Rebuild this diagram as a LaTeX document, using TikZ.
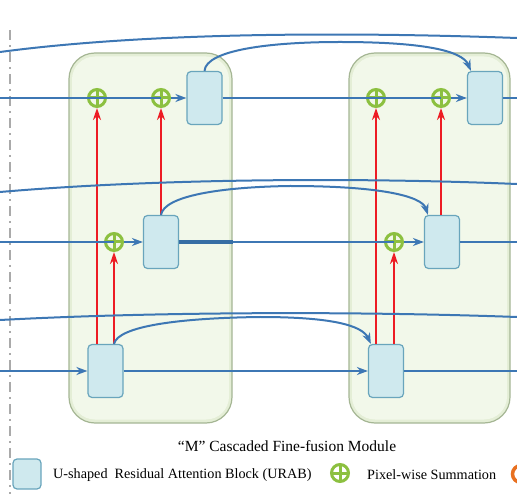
\documentclass[tikz,border=0pt]{standalone}
\usepackage{fontspec}
\setmainfont{Liberation Serif}
\usetikzlibrary{arrows.meta,calc}
\definecolor{lineblue}{RGB}{61,119,180}
\definecolor{darkblue}{RGB}{55,110,165}
\definecolor{arrred}{RGB}{237,28,36}
\definecolor{plusgreen}{RGB}{140,192,64}
\definecolor{modfill}{RGB}{242,248,234}
\definecolor{modmid}{RGB}{228,238,214}
\definecolor{modedge}{RGB}{165,182,148}
\definecolor{blockfill}{RGB}{207,233,238}
\definecolor{blockedge}{RGB}{105,165,188}
\definecolor{dashgray}{RGB}{170,170,170}
\definecolor{catorange}{RGB}{232,112,32}
\newcommand\mycapfont{\fontsize{15.5}{18}\selectfont}
\newcommand\mylegfont{\fontsize{14.2}{17}\selectfont}
\tikzset{
  module/.style={draw=modedge, line width=1.2pt, fill=modmid, rounded corners=26pt,
    minimum width=#1, minimum height=370pt, inner sep=0pt},
  modinner/.style={fill=modfill, rounded corners=23pt, minimum width=#1,
    minimum height=363pt, inner sep=0pt},
  urab/.style={draw=blockedge, line width=1.2pt, fill=blockfill, rounded corners=4pt,
    minimum width=35pt, minimum height=53pt, inner sep=0pt},
  sumnode/.style={circle, draw=plusgreen, line width=3pt, minimum size=17pt, inner sep=0pt,
    path picture={\draw[plusgreen, line width=3pt]
      (path picture bounding box.north) -- (path picture bounding box.south)
      (path picture bounding box.west) -- (path picture bounding box.east);}},
  flow/.style={draw=lineblue, line width=2pt},
  flowarrow/.style={flow, -{Stealth[length=11pt,width=8pt,inset=3.5pt]}},
  feed/.style={draw=arrred, line width=2.4pt, -{Stealth[length=12pt,width=8pt,inset=4pt]}},
  dashdot/.style={draw=dashgray, line width=2pt, dash pattern=on 10pt off 5pt on 2pt off 5pt},
}
\begin{document}
\begin{tikzpicture}[x=1pt,y=-1pt]
\useasboundingbox (0,0) rectangle (517,494);
\clip (0,0) rectangle (517,494);
% dash-dot separator
\coordinate (dd0) at (10,30);
\coordinate (dd1) at (10,494);
\draw[dashdot] (dd0) -- (dd1);
% modules
\node[module=163pt] (ML) at (150.5,238) {};
\node[modinner=157pt] (MLi) at (ML.center) {};
\node[module=161pt] (MR) at (429.5,238) {};
\node[modinner=155pt] (MRi) at (MR.center) {};
% blocks
\node[urab] (L1) at (204.5,98) {};
\node[urab] (L2) at (161,242) {};
\node[urab] (L3) at (105.5,371) {};
\node[urab] (R1) at (485,98) {};
\node[urab] (R2) at (442,242) {};
\node[urab] (R3) at (386,371) {};
% summations
\node[sumnode] (pL1a) at (97,98) {};
\node[sumnode] (pL1b) at (161,98) {};
\node[sumnode] (pL2) at (114,242) {};
\node[sumnode] (pR1a) at (376,98) {};
\node[sumnode] (pR1b) at (441,98) {};
\node[sumnode] (pR2) at (394,242) {};
% free ends
\coordinate (in1) at (0,98);   \coordinate (out1) at (517,98);
\coordinate (in2) at (0,242);  \coordinate (out2) at (517,242);
\coordinate (in3) at (0,371);  \coordinate (out3) at (517,371);
\coordinate (t0) at (0,52);    \coordinate (t1) at (517,38);
\coordinate (m0) at (0,192);   \coordinate (m1) at (517,184);
\coordinate (b0) at (0,320);   \coordinate (b1) at (517,317);
% red feeds
\draw[feed] (pL1a |- L3.north) -- (pL1a);
\draw[feed] (pL2 |- L3.north) -- (pL2);
\draw[feed] (L2.north) -- (pL1b);
\draw[feed] (pR1a |- R3.north) -- (pR1a);
\draw[feed] (pR2 |- R3.north) -- (pR2);
\draw[feed] (pR1b |- R2.north) -- (pR1b);
% row 1
\draw[flow] (in1) -- (pL1a.center) -- (pL1b.center);
\draw[flowarrow] (pL1b) -- (L1);
\draw[flow] (L1) -- (pR1a.center) -- (pR1b.center);
\draw[flowarrow] (pR1b) -- (R1);
\draw[flow] (R1) -- (out1);
% row 2
\draw[flow] (in2) -- (pL2.center);
\draw[flowarrow] (pL2) -- (L2);
\draw[draw=darkblue, line width=4pt] (L2) -- (ML.east |- L2);
\draw[flow] (ML.east |- L2) -- (pR2.center);
\draw[flowarrow] (pR2) -- (R2);
\draw[flow] (R2) -- (out2);
% row 3
\draw[flowarrow] (in3) -- (L3);
\draw[flowarrow] (L3) -- (R3);
\draw[flow] (R3) -- (out3);
% long skip curves
\draw[flow] (t0) .. controls (150,32) and (350,32) .. (t1);
\draw[flow] (m0) .. controls (150,179) and (350,177) .. (m1);
\draw[flow] (b0) .. controls (150,312) and (350,311) .. (b1);
% block-to-block curves
\draw[flowarrow] (L1.north) .. controls (206,50) and (270,42) .. (340,42)
  .. controls (420,42) and (462,50) .. ($(R1.north west)+(4,0)$);
\draw[flowarrow] (L2.north) .. controls (164,196) and (220,187) .. (290,186)
  .. controls (380,186) and (422,196) .. ($(R2.north west)+(4,0)$);
\draw[flowarrow] (pL2 |- L3.north) .. controls (118,326) and (180,318) .. (260,317)
  .. controls (330,317) and (362,325) .. ($(R3.north west)+(3,0)$);
% caption and legend
\node[font=\mycapfont] (cap) at (287,446) {“M” Cascaded Fine-fusion Module};
\node[urab, minimum width=28pt, minimum height=30pt] (legU) at (27,474) {};
\node[font=\mylegfont, anchor=west, inner sep=0pt] (legUt) at (53,475) {U-shaped\ \ Residual Attention Block (URAB)};
\node[sumnode] (legP) at (340,473) {};
\node[font=\mylegfont, anchor=west, inner sep=0pt] (legPt) at (367,475) {Pixel-wise Summation};
\node[circle, draw=catorange, line width=3.5pt, minimum size=17pt, inner sep=0pt] (legC) at (521,474) {};
\end{tikzpicture}
\end{document}
